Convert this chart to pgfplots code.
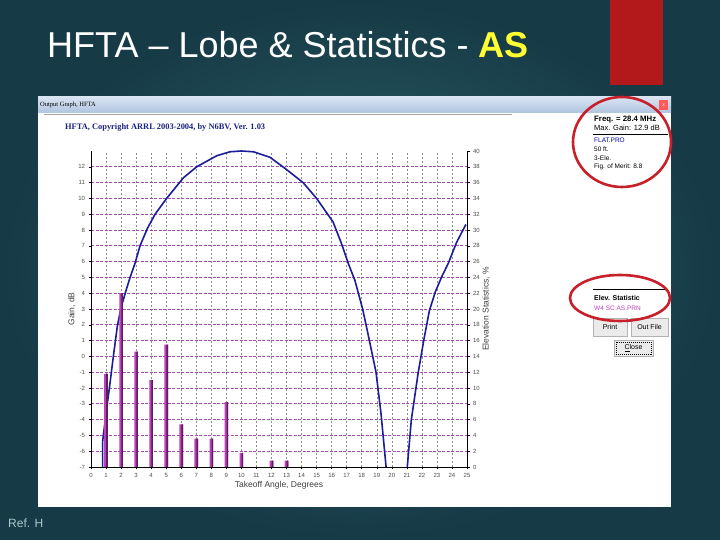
\documentclass[border=0pt]{standalone}
\usepackage{fontspec}
\setmainfont{Liberation Sans}
\newfontfamily\tnr{Liberation Serif}
\usepackage{pgfplots}
\pgfplotsset{compat=1.18}
\usetikzlibrary{shadings}
\definecolor{bgdark}{HTML}{163A46}
\definecolor{bglight}{HTML}{2F6569}
\definecolor{slidered}{HTML}{B3181B}
\definecolor{curveblue}{HTML}{1C1C9C}
\definecolor{gridpurple}{HTML}{A050A8}
\definecolor{barmag}{HTML}{C040C0}
\definecolor{bardark}{HTML}{5A205A}
\definecolor{titleblue}{HTML}{1A2380}
\definecolor{ellred}{HTML}{C8202A}
\definecolor{reftext}{HTML}{A8CACA}
\definecolor{slideyellow}{HTML}{FFFF33}
\definecolor{barlight}{HTML}{D9E4F2}
\definecolor{bardeep}{HTML}{AFC4E0}
\begin{document}
\begin{tikzpicture}[x=1pt,y=1pt]
\shade[inner color=bglight, outer color=bgdark] (0,0) rectangle (720,540);
\useasboundingbox (0,0) rectangle (720,540);
\fill[slidered] (610,540) rectangle (663,455);
\node[anchor=base west, inner sep=0, text=white, font=\fontsize{36}{40}\selectfont] at (47,482) {HFTA – Lobe \& Statistics - \textcolor{slideyellow}{\textbf{AS}}};
\node[anchor=base west, inner sep=0, text=reftext, font=\fontsize{12}{14}\selectfont] at (8,12) {Ref. H};
% window
\fill[white] (38,33) rectangle (671,443);
\shade[top color=barlight, bottom color=bardeep] (38,443) rectangle (671,427);
\node[anchor=west, inner sep=0, font=\tnr\fontsize{6.5}{7}\selectfont] at (40,435) {Output Graph, HFTA};
\fill[red!65] (659,440) rectangle (668,430);
\node[text=white, font=\fontsize{5}{5}\selectfont, inner sep=0] at (663.5,435) {x};
\draw[black!35, line width=0.8pt] (44,426) -- (512,426);
\node[anchor=base west, inner sep=0, text=titleblue, font=\tnr\bfseries\fontsize{8.4}{9}\selectfont] at (65,410) {HFTA, Copyright ARRL 2003-2004, by N6BV, Ver. 1.03};
% left axis (gain)
\begin{axis}[
  at={(91pt,73pt)}, anchor=south west, scale only axis,
  width=376pt, height=316pt,
  xmin=0, xmax=25, ymin=-7, ymax=13,
  axis x line*=bottom, axis y line*=left,
  axis line style={-, black, line width=0.8pt},
  xtick={0,...,25}, ytick={-7,...,12},
  /pgf/number format/assume math mode=true,
  tick label style={font=\fontsize{6}{6}\selectfont, text=black!70},
  tick align=outside, major tick length=2.5pt,
  tick style={black, line width=0.5pt},
  xmajorgrids, ymajorgrids,
  x grid style={black!45, dash pattern=on 2pt off 2pt, line width=0.5pt},
  y grid style={gridpurple, dash pattern=on 3pt off 1.5pt, line width=0.8pt},
  xlabel={Takeoff Angle, Degrees},
  ylabel={Gain, dB},
  label style={font=\fontsize{8.5}{9}\selectfont, text=black!75},
  xlabel style={yshift=3pt},
  ylabel style={yshift=-4pt},
  clip=true,
]
\addplot[curveblue, line width=1.6pt] coordinates {
(0.77,-7) (0.77,-5.4) (1.0,-3.6) (1.25,-1.8) (1.5,0.1) (1.75,1.9) (2.0,3.1)
(2.37,4.3) (2.6,5.0) (2.93,5.9) (3.26,7.0) (3.75,8.1) (4.26,9.0) (5.03,10.0)
(6.14,11.3) (7.03,12.0) (8.36,12.7) (9.24,12.95) (10.0,13.0) (10.8,12.95)
(11.9,12.6) (12.9,11.9) (14.1,11.0) (15.0,10.0) (16.1,8.5) (16.67,7.1)
(17.1,5.9) (17.55,4.8) (18.06,3.0) (18.4,1.5) (18.95,-1.0) (19.28,-3.6) (19.62,-7)
};
\addplot[curveblue, line width=1.6pt] coordinates {
(21.03,-7) (21.3,-4.0) (21.76,-1.0) (22.14,1.1) (22.5,2.9) (22.9,4.1)
(23.3,5.0) (23.76,5.9) (24.3,7.2) (24.87,8.25) (24.93,8.35)
};
\end{axis}
% right axis (statistics)
\begin{axis}[
  at={(91pt,73pt)}, anchor=south west, scale only axis,
  width=376pt, height=316pt,
  xmin=0, xmax=25, ymin=0, ymax=40,
  axis x line=none, axis y line*=right,
  axis line style={-, black, line width=0.8pt},
  ytick={0,2,...,40},
  /pgf/number format/assume math mode=true,
  tick label style={font=\fontsize{6}{6}\selectfont, text=black!70},
  tick align=outside, major tick length=2.5pt,
  tick style={black, line width=0.5pt},
  ylabel={Elevation Statistics, \%},
  label style={font=\fontsize{8.5}{9}\selectfont, text=black!75},
  ylabel style={yshift=4pt},
]
\addplot[ybar, bar width=3.6pt, bar shift=0pt, fill=barmag, draw=none] coordinates {
(1,11.8) (2,22) (3,14.6) (4,11.0) (5,15.5) (6,5.4) (7,3.6) (8,3.6) (9,8.2) (10,1.8) (12,0.8) (13,0.8)
};
\addplot[ybar, bar width=1.6pt, bar shift=1pt, fill=bardark, draw=none] coordinates {
(1,11.8) (2,22) (3,14.6) (4,11.0) (5,15.5) (6,5.4) (7,3.6) (8,3.6) (9,8.2) (10,1.8) (12,0.8) (13,0.8)
};
\end{axis}
% right panel
\node[anchor=base west, inner sep=0, font=\bfseries\fontsize{7.8}{8}\selectfont] at (594,418) {Freq. = 28.4 MHz};
\node[anchor=base west, inner sep=0, font=\fontsize{7.5}{8}\selectfont] at (594,409) {Max. Gain: 12.9 dB};
\draw[black, line width=0.8pt] (593,406) -- (668,406);
\node[anchor=base west, inner sep=0, text=blue!70!black, font=\fontsize{6.5}{7}\selectfont] at (594,397) {FLAT.PRO};
\node[anchor=base west, inner sep=0, font=\fontsize{6.5}{7}\selectfont] at (594,388) {50 ft.};
\node[anchor=base west, inner sep=0, font=\fontsize{6.5}{7}\selectfont] at (594,379) {3-Ele.};
\node[anchor=base west, inner sep=0, font=\fontsize{6.5}{7}\selectfont] at (594,371) {Fig. of Merit: 8.8};
\draw[black, line width=0.8pt] (593,251) -- (668,251);
\node[anchor=base west, inner sep=0, font=\bfseries\fontsize{7}{8}\selectfont] at (594,239) {Elev. Statistic};
\node[anchor=base west, inner sep=0, text=barmag, font=\fontsize{6.5}{7}\selectfont] at (594,229) {W4 SC AS.PRN};
\draw[fill=black!8, draw=black!30] (593,222) rectangle (627,204);
\node[font=\fontsize{7}{8}\selectfont] at (610,213) {Print};
\draw[fill=black!8, draw=black!30] (631,222) rectangle (668,204);
\node[font=\fontsize{7}{8}\selectfont] at (649.5,213) {Out File};
\draw[fill=black!8, draw=black!30] (614,200) rectangle (653,184);
\draw[black, dash pattern=on 1pt off 1pt] (616,198) rectangle (651,186);
\node[font=\fontsize{7}{8}\selectfont] at (633.5,192) {\underline{C}lose};
% red ellipses
\draw[ellred, line width=2.6pt] (622,398) ellipse [x radius=49, y radius=45];
\draw[ellred, line width=2.6pt] (620,242) ellipse [x radius=50, y radius=23];
\end{tikzpicture}
\end{document}
